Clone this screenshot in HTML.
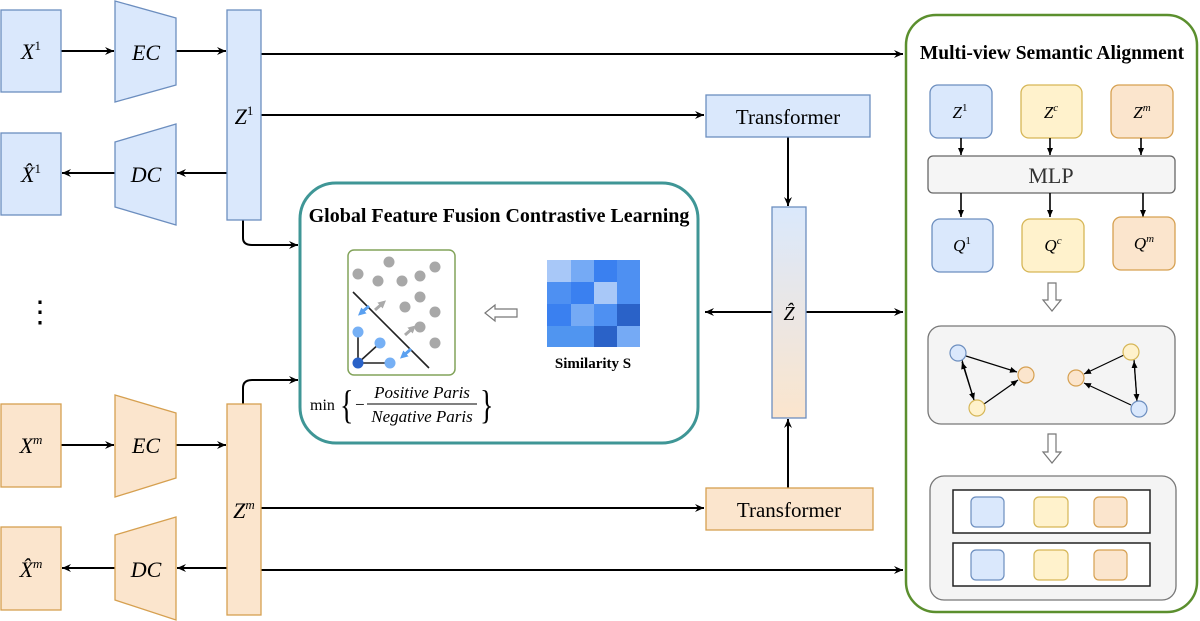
<!DOCTYPE html>
<html><head><meta charset="utf-8"><style>
html,body{margin:0;padding:0;background:#fff;}
svg{display:block;}
text{font-family:"Liberation Serif",serif;}
.m{font-style:italic;}
</style></head><body>
<svg width="1200" height="621" viewBox="0 0 1200 621" xmlns="http://www.w3.org/2000/svg">
<defs>
<marker id="a" markerWidth="10" markerHeight="10" refX="9" refY="5" orient="auto" markerUnits="userSpaceOnUse"><path d="M0,1 L9,5 L0,9 L3,5 Z" fill="#000"/></marker>
<marker id="s" markerWidth="8" markerHeight="8" refX="7" refY="4" orient="auto" markerUnits="userSpaceOnUse"><path d="M0,1 L7,4 L0,7 Z" fill="#000"/></marker>
<marker id="bb" markerWidth="8" markerHeight="8" refX="4" refY="4" orient="auto" markerUnits="userSpaceOnUse"><path d="M0,0 L8,4 L0,8 Z" fill="#5aa0f0"/></marker>
<marker id="gg" markerWidth="8" markerHeight="8" refX="4" refY="4" orient="auto" markerUnits="userSpaceOnUse"><path d="M0,0 L8,4 L0,8 Z" fill="#aaa"/></marker>
<linearGradient id="g" x1="0" y1="0" x2="0" y2="1"><stop offset="0" stop-color="#dae8fc"/><stop offset="1" stop-color="#fbe5cd"/></linearGradient>
</defs>
<g stroke="#000" stroke-width="2" fill="none" marker-end="url(#a)">
<line x1="61" y1="51" x2="114" y2="51"/>
<line x1="176" y1="51" x2="226" y2="51"/>
<line x1="227" y1="173" x2="177" y2="173"/>
<line x1="115" y1="173" x2="62" y2="173"/>
<line x1="261" y1="54" x2="903" y2="54"/>
<line x1="261" y1="115" x2="704" y2="115"/>
<path d="M243,220 V238 Q243,245 252,245 H298"/>
<line x1="61" y1="445" x2="114" y2="445"/>
<line x1="176" y1="445" x2="226" y2="445"/>
<line x1="227" y1="568" x2="177" y2="568"/>
<line x1="115" y1="568" x2="62" y2="568"/>
<line x1="261" y1="508" x2="704" y2="508"/>
<line x1="261" y1="570" x2="903" y2="570"/>
<path d="M243,404 V388 Q243,380 252,380 H298"/>
<line x1="788" y1="137" x2="788" y2="206"/>
<line x1="788" y1="488" x2="788" y2="419"/>
<line x1="772" y1="312" x2="705" y2="312"/>
<line x1="806" y1="312" x2="903" y2="312"/>
</g>
<!-- top row -->
<rect x="1" y="10" width="60" height="82" fill="#dae8fc" stroke="#6c8ebf" stroke-width="1.3"/>
<polygon points="115,1 176,18 176,85 115,102" fill="#dae8fc" stroke="#6c8ebf" stroke-width="1.3"/>
<rect x="227" y="10" width="34" height="210" fill="#dae8fc" stroke="#6c8ebf" stroke-width="1.3"/>
<polygon points="115,142 176,124 176,225 115,207" fill="#dae8fc" stroke="#6c8ebf" stroke-width="1.3"/>
<rect x="1" y="133" width="60" height="82" fill="#dae8fc" stroke="#6c8ebf" stroke-width="1.3"/>
<text x="31" y="59" font-size="22" text-anchor="middle"><tspan class="m">X</tspan><tspan font-size="13" dy="-9">1</tspan></text>
<text x="146" y="60" font-size="22" text-anchor="middle" class="m">EC</text>
<text x="244" y="124" font-size="22" text-anchor="middle"><tspan class="m">Z</tspan><tspan font-size="13" dy="-9">1</tspan></text>
<text x="146" y="182" font-size="22" text-anchor="middle" class="m">DC</text>
<text x="31" y="182" font-size="22" text-anchor="middle"><tspan class="m">X̂</tspan><tspan font-size="13" dy="-9">1</tspan></text>
<text x="40" y="322" font-size="30" text-anchor="middle">⋮</text>
<!-- bottom row -->
<rect x="1" y="404" width="60" height="83" fill="#fbe5cd" stroke="#d6a050" stroke-width="1.3"/>
<polygon points="115,395 176,413 176,478 115,497" fill="#fbe5cd" stroke="#d6a050" stroke-width="1.3"/>
<rect x="227" y="404" width="34" height="211" fill="#fbe5cd" stroke="#d6a050" stroke-width="1.3"/>
<polygon points="115,535 176,517 176,620 115,600" fill="#fbe5cd" stroke="#d6a050" stroke-width="1.3"/>
<rect x="1" y="527" width="60" height="83" fill="#fbe5cd" stroke="#d6a050" stroke-width="1.3"/>
<text x="31" y="453" font-size="22" text-anchor="middle"><tspan class="m">X</tspan><tspan font-size="13" dy="-9" class="m">m</tspan></text>
<text x="146" y="453" font-size="22" text-anchor="middle" class="m">EC</text>
<text x="244" y="518" font-size="22" text-anchor="middle"><tspan class="m">Z</tspan><tspan font-size="13" dy="-9" class="m">m</tspan></text>
<text x="146" y="577" font-size="22" text-anchor="middle" class="m">DC</text>
<text x="31" y="577" font-size="22" text-anchor="middle"><tspan class="m">X̂</tspan><tspan font-size="13" dy="-9" class="m">m</tspan></text>
<!-- transformers -->
<rect x="706" y="95" width="164" height="42" fill="#dae8fc" stroke="#6c8ebf" stroke-width="1.3"/>
<text x="788" y="124" font-size="21" text-anchor="middle">Transformer</text>
<rect x="706" y="488" width="167" height="42" fill="#fbe5cd" stroke="#d6a050" stroke-width="1.3"/>
<text x="789" y="517" font-size="21" text-anchor="middle">Transformer</text>
<rect x="772" y="207" width="34" height="211" fill="url(#g)" stroke="#6c8ebf" stroke-width="1.3"/>
<text x="789" y="320" font-size="20" text-anchor="middle" class="m">Ẑ</text>
<!-- teal box -->
<rect x="300" y="183" width="398" height="260" rx="36" fill="#fff" stroke="#3f9696" stroke-width="3"/>
<text x="499" y="222" font-size="20" font-weight="bold" text-anchor="middle">Global Feature Fusion Contrastive Learning</text>
<rect x="348" y="250" width="107" height="125" rx="6" fill="#fff" stroke="#82a35a" stroke-width="1.5"/>
<g fill="#a8a8a8">
<circle cx="389" cy="262" r="5.5"/><circle cx="358" cy="274" r="5.5"/><circle cx="378" cy="281" r="5.5"/><circle cx="402" cy="281" r="5.5"/><circle cx="420" cy="276" r="5.5"/><circle cx="435" cy="267" r="5.5"/><circle cx="420" cy="297" r="5.5"/><circle cx="405" cy="307" r="5.5"/><circle cx="435" cy="312" r="5.5"/><circle cx="420" cy="327" r="5.5"/><circle cx="435" cy="343" r="5.5"/>
</g>
<line x1="353" y1="292" x2="429" y2="368" stroke="#222" stroke-width="1.6"/>
<g stroke="#222" stroke-width="1.6"><line x1="358" y1="363" x2="358" y2="332"/><line x1="358" y1="363" x2="380" y2="343"/><line x1="358" y1="363" x2="390" y2="363"/></g>
<circle cx="358" cy="332" r="5.5" fill="#76b0f5"/><circle cx="380" cy="343" r="5.5" fill="#76b0f5"/><circle cx="390" cy="363" r="5.5" fill="#76b0f5"/><circle cx="358" cy="363" r="5.5" fill="#2a62c8"/>
<g stroke-width="3"><line x1="369" y1="306" x2="361" y2="313" stroke="#5aa0f0" marker-end="url(#bb)"/><line x1="375" y1="310" x2="383" y2="303" stroke="#aaa" marker-end="url(#gg)"/><line x1="405" y1="335" x2="413" y2="328" stroke="#aaa" marker-end="url(#gg)"/><line x1="411" y1="349" x2="403" y2="356" stroke="#5aa0f0" marker-end="url(#bb)"/></g>
<polygon points="485,313 495,305 495,309 517,309 517,317 495,317 495,321" fill="#fff" stroke="#777" stroke-width="1.2"/>
<g>
<rect x="547" y="260" width="24" height="22" fill="#a8c8f8"/><rect x="571" y="260" width="23" height="22" fill="#75aaf5"/><rect x="594" y="260" width="23" height="22" fill="#3a80f0"/><rect x="617" y="260" width="23" height="22" fill="#4e90f2"/>
<rect x="547" y="282" width="24" height="22" fill="#4e90f2"/><rect x="571" y="282" width="23" height="22" fill="#3a80f0"/><rect x="594" y="282" width="23" height="22" fill="#a8c8f8"/><rect x="617" y="282" width="23" height="22" fill="#4e90f2"/>
<rect x="547" y="304" width="24" height="22" fill="#3a80f0"/><rect x="571" y="304" width="23" height="22" fill="#75aaf5"/><rect x="594" y="304" width="23" height="22" fill="#4e90f2"/><rect x="617" y="304" width="23" height="22" fill="#2a62c8"/>
<rect x="547" y="326" width="24" height="21" fill="#5095f0"/><rect x="571" y="326" width="23" height="21" fill="#5095f0"/><rect x="594" y="326" width="23" height="21" fill="#2a62c8"/><rect x="617" y="326" width="23" height="21" fill="#75aaf5"/>
</g>
<text x="593" y="368" font-size="15" font-weight="bold" text-anchor="middle">Similarity S</text>
<text x="310" y="410" font-size="16">min</text>
<text x="340" y="418" font-size="40" transform="scale(0.7,1)" transform-origin="340 410">{</text>
<text x="355" y="410" font-size="17">−</text>
<text x="422" y="398" font-size="17" text-anchor="middle" class="m">Positive Paris</text>
<line x1="367" y1="404" x2="477" y2="404" stroke="#000" stroke-width="1"/>
<text x="422" y="422" font-size="17" text-anchor="middle" class="m">Negative Paris</text>
<text x="480" y="418" font-size="40" transform="scale(0.7,1)" transform-origin="480 410">}</text>
<!-- right green panel -->
<rect x="906" y="15" width="291" height="597" rx="30" fill="#fff" stroke="#5b8f2e" stroke-width="2.5"/>
<text x="1052" y="59" font-size="19.5" font-weight="bold" text-anchor="middle">Multi-view Semantic Alignment</text>
<rect x="930" y="85" width="62" height="53" rx="8" fill="#dae8fc" stroke="#6c8ebf" stroke-width="1.3"/>
<rect x="1021" y="85" width="61" height="53" rx="8" fill="#fff2cc" stroke="#d6b656" stroke-width="1.3"/>
<rect x="1111" y="85" width="62" height="53" rx="8" fill="#fbe5cd" stroke="#d6a050" stroke-width="1.3"/>
<text x="960" y="118" font-size="17" text-anchor="middle"><tspan class="m">Z</tspan><tspan font-size="11" dy="-7">1</tspan></text>
<text x="1051" y="118" font-size="17" text-anchor="middle"><tspan class="m">Z</tspan><tspan font-size="11" dy="-7" class="m">c</tspan></text>
<text x="1142" y="118" font-size="17" text-anchor="middle"><tspan class="m">Z</tspan><tspan font-size="11" dy="-7" class="m">m</tspan></text>
<rect x="928" y="156" width="247" height="37" rx="5" fill="#f5f5f5" stroke="#666" stroke-width="1.3"/>
<text x="1051" y="183" font-size="22" text-anchor="middle" fill="#333">MLP</text>
<g stroke="#000" stroke-width="1.6" marker-end="url(#s)">
<line x1="961" y1="138" x2="961" y2="155"/><line x1="1050" y1="138" x2="1050" y2="155"/><line x1="1141" y1="138" x2="1141" y2="155"/>
<line x1="961" y1="193" x2="961" y2="217"/><line x1="1050" y1="193" x2="1050" y2="217"/><line x1="1143" y1="193" x2="1143" y2="217"/>
</g>
<rect x="932" y="219" width="61" height="53" rx="8" fill="#dae8fc" stroke="#6c8ebf" stroke-width="1.3"/>
<rect x="1022" y="219" width="62" height="53" rx="8" fill="#fff2cc" stroke="#d6b656" stroke-width="1.3"/>
<rect x="1113" y="217" width="62" height="53" rx="8" fill="#fbe5cd" stroke="#d6a050" stroke-width="1.3"/>
<text x="962" y="251" font-size="17" text-anchor="middle"><tspan class="m">Q</tspan><tspan font-size="11" dy="-7">1</tspan></text>
<text x="1053" y="251" font-size="17" text-anchor="middle"><tspan class="m">Q</tspan><tspan font-size="11" dy="-7" class="m">c</tspan></text>
<text x="1144" y="249" font-size="17" text-anchor="middle"><tspan class="m">Q</tspan><tspan font-size="11" dy="-7" class="m">m</tspan></text>
<polygon points="1048,283 1056,283 1056,300 1061,300 1052,311 1043,300 1048,300" fill="#fff" stroke="#777" stroke-width="1.2"/>
<rect x="928" y="326" width="247" height="98" rx="13" fill="#f4f4f4" stroke="#777" stroke-width="1.3"/>
<g stroke="#000" stroke-width="1.2" marker-end="url(#s)">
<line x1="966" y1="356" x2="1017" y2="372"/><line x1="984" y1="404" x2="1018" y2="380"/><line x1="962" y1="360" x2="974" y2="400"/><line x1="974" y1="400" x2="962" y2="362"/>
<line x1="1124" y1="355" x2="1084" y2="374"/><line x1="1131" y1="405" x2="1084" y2="383"/><line x1="1134" y1="359" x2="1137" y2="401"/><line x1="1137" y1="401" x2="1134" y2="361"/>
</g>
<circle cx="958" cy="353" r="8" fill="#dae8fc" stroke="#6c8ebf" stroke-width="1.2"/>
<circle cx="1026" cy="375" r="8" fill="#fbe5cd" stroke="#d6a050" stroke-width="1.2"/>
<circle cx="977" cy="408" r="8" fill="#fff2cc" stroke="#d6b656" stroke-width="1.2"/>
<circle cx="1131" cy="352" r="8" fill="#fff2cc" stroke="#d6b656" stroke-width="1.2"/>
<circle cx="1076" cy="378" r="8" fill="#fbe5cd" stroke="#d6a050" stroke-width="1.2"/>
<circle cx="1139" cy="409" r="8" fill="#dae8fc" stroke="#6c8ebf" stroke-width="1.2"/>
<polygon points="1048,434 1056,434 1056,452 1061,452 1052,463 1043,452 1048,452" fill="#fff" stroke="#777" stroke-width="1.2"/>
<rect x="930" y="476" width="246" height="124" rx="14" fill="#f4f4f4" stroke="#777" stroke-width="1.3"/>
<rect x="953" y="490" width="197" height="43" fill="#fff" stroke="#222" stroke-width="1.5"/>
<rect x="953" y="543" width="197" height="43" fill="#fff" stroke="#222" stroke-width="1.5"/>
<g stroke-width="1.2">
<rect x="971" y="497" width="33" height="30" rx="5" fill="#dae8fc" stroke="#6c8ebf"/>
<rect x="1034" y="497" width="34" height="30" rx="5" fill="#fff2cc" stroke="#d6b656"/>
<rect x="1094" y="497" width="33" height="30" rx="5" fill="#fbe5cd" stroke="#d6a050"/>
<rect x="971" y="550" width="33" height="30" rx="5" fill="#dae8fc" stroke="#6c8ebf"/>
<rect x="1034" y="550" width="34" height="30" rx="5" fill="#fff2cc" stroke="#d6b656"/>
<rect x="1094" y="550" width="33" height="30" rx="5" fill="#fbe5cd" stroke="#d6a050"/>
</g>
</svg>
</body></html>
